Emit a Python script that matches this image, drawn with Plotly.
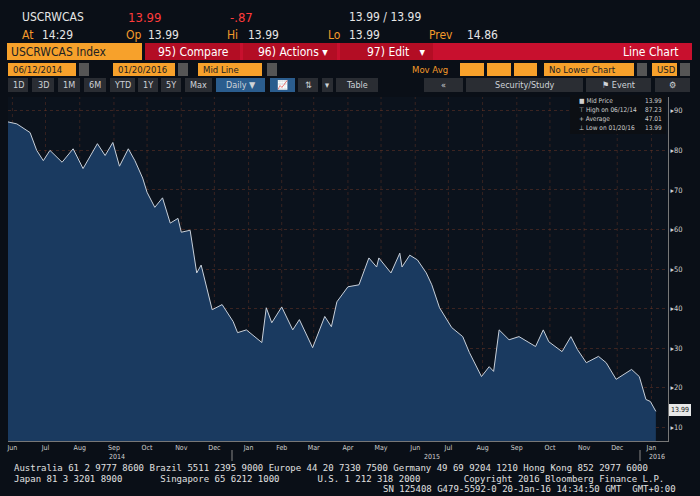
import plotly.graph_objects as go

dates = ["2014-06-12","2014-06-20","2014-07-02","2014-07-08","2014-07-14","2014-07-20","2014-07-31","2014-08-10","2014-08-19","2014-09-01",
"2014-09-08","2014-09-15","2014-09-21","2014-09-29","2014-10-05","2014-10-12","2014-10-16","2014-10-23","2014-10-30","2014-11-06",
"2014-11-13","2014-11-16","2014-11-24","2014-11-30","2014-12-04","2014-12-14","2014-12-23","2015-01-02","2015-01-06","2015-01-14",
"2015-01-28","2015-02-01","2015-02-06","2015-02-15","2015-02-25","2015-03-03","2015-03-15","2015-03-26","2015-04-01","2015-04-06",
"2015-04-16","2015-04-26","2015-05-05","2015-05-12","2015-05-14","2015-05-25","2015-06-02","2015-06-04","2015-06-11","2015-06-18",
"2015-06-26","2015-07-01","2015-07-08","2015-07-19","2015-07-29","2015-08-04","2015-08-15","2015-08-22","2015-08-26","2015-08-31",
"2015-09-09","2015-09-18","2015-09-27","2015-10-03","2015-10-10","2015-10-15","2015-10-27","2015-11-04","2015-11-10","2015-11-18",
"2015-11-29","2015-12-06","2015-12-15","2015-12-29","2016-01-05","2016-01-11","2016-01-15","2016-01-20"]
prices = [87.2,86.7,84.5,80.0,77.4,80.0,77.0,80.4,75.4,81.7,
78.7,82.0,76.0,80.4,77.4,73.0,69.4,65.6,68.0,61.6,
62.8,59.3,59.8,49.0,51.0,39.7,41.0,36.7,33.9,34.6,
31.4,40.2,36.4,40.4,34.6,37.2,30.1,38.0,35.4,41.7,
45.5,46.0,52.8,50.5,52.8,49.0,54.0,50.5,53.5,52.3,
49.0,46.0,40.2,35.2,32.9,28.9,22.8,25.3,24.1,34.6,
32.1,32.9,31.4,30.4,34.6,31.6,29.1,32.9,29.6,26.3,
27.9,26.3,22.1,24.6,22.8,17.0,16.5,13.99]
ytick_vals = [10,20,30,40,50,60,70,80,90]
month_labels = ["Jun","Jul","Aug","Sep","Oct","Nov","Dec","Jan","Feb","Mar","Apr","May","Jun","Jul","Aug","Sep","Oct","Nov","Dec","Jan"]
month_pos = ["2014-06-16","2014-07-16","2014-08-16","2014-09-16","2014-10-16","2014-11-16","2014-12-16","2015-01-16","2015-02-15","2015-03-16",
"2015-04-16","2015-05-16","2015-06-16","2015-07-16","2015-08-16","2015-09-16","2015-10-16","2015-11-16","2015-12-16","2016-01-16"]

W, H = 700, 496
ML, MR, MT, MB = 8, 32, 97, 55
PW, PH = W - ML - MR, H - MT - MB
def px(x): return (x - ML) / PW
def py(y): return (H - MB - y) / PH

fig = go.Figure()
fig.add_trace(go.Scatter(x=dates, y=prices, mode="lines", fill="tozeroy",
    line=dict(color="#c8d0da", width=1), fillcolor="#1a3a60", hoverinfo="skip"))

fig.update_layout(
    width=W, height=H, showlegend=False,
    paper_bgcolor="#0a0f17", plot_bgcolor="#0b121c",
    margin=dict(l=ML, r=MR, t=MT, b=MB, autoexpand=False),
    font=dict(family="DejaVu Sans Condensed, DejaVu Sans", color="#d8d8d8", size=9),
    xaxis=dict(range=["2014-06-12", "2016-01-31"], tickvals=month_pos, ticktext=month_labels,
        showgrid=False, tickfont=dict(size=7, color="#cfcfcf"), ticks="", ticklabelstandoff=0, showline=True,
        linecolor="#777", zeroline=False, automargin=False),
    yaxis=dict(side="right", range=[6.5, 93.5], tickvals=ytick_vals,
        ticktext=["▸" + str(v) for v in ytick_vals], tickfont=dict(size=7.5, color="#cfcfcf"),
        gridcolor="rgba(120,60,40,0.45)", griddash="dot", zeroline=False,
        showline=True, linecolor="#777", automargin=False),
)
for d in month_pos:
    fig.add_vline(x=d, line=dict(color="rgba(120,60,40,0.4)", width=1, dash="dot"), layer="below")

shapes = []
anns = []
def rect(x0, y0, x1, y1, color):
    shapes.append(dict(type="rect", xref="paper", yref="paper", x0=px(x0), x1=px(x1), y0=py(y1), y1=py(y0),
                       fillcolor=color, line=dict(width=0), layer="above"))
def text(x, y, s, color="#e6e6e6", size=11, anchor="left", fam="DejaVu Sans Condensed, DejaVu Sans"):
    anns.append(dict(xref="paper", yref="paper", x=px(x), y=py(y), text=s, showarrow=False,
                     xanchor=anchor, yanchor="middle", font=dict(color=color, size=size, family=fam)))

text(20, 17, "USCRWCAS", size=12)
text(126, 17, "13.99", "#ff3b3b", 13)
text(228, 17, "-.87", "#ff3b3b", 13)
text(347, 17, "13.99 / 13.99", size=12)
text(20, 35, "At", "#f39a2a", 12); text(40, 35, "14:29", size=12)
text(124, 35, "Op", "#f39a2a", 12); text(146, 35, "13.99", size=12)
text(225, 35, "Hi", "#f39a2a", 12); text(246, 35, "13.99", size=12)
text(326, 35, "Lo", "#f39a2a", 12); text(347, 35, "13.99", size=12)
text(427, 35, "Prev", "#f39a2a", 12); text(465, 35, "14.86", size=12)
rect(7, 43, 142, 60, "#f7a12b")
text(9, 51.5, "USCRWCAS Index", "#222", 12)
rect(145, 43, 692, 60, "#c8102e")
rect(145, 43, 240, 60, "#b30d24"); rect(243, 43, 337, 60, "#b30d24"); rect(340, 43, 433, 60, "#b30d24")
text(156, 51.5, "95) Compare", "#fff", 12)
text(256, 51.5, "96) Actions ▾", "#fff", 12)
text(365, 51.5, "97) Edit   ▾", "#fff", 12)
text(681, 51.5, "Line Chart", "#fff", 12, "right")
for (a, b, s) in [(8, 76, "06/12/2014"), (113, 175, "01/20/2016"), (198, 262, "Mid Line"),
                  (460, 484, ""), (487, 511, ""), (514, 537, ""), (544, 634, "No Lower Chart"), (652, 677, "USD")]:
    rect(a, 63, b, 76, "#f7a12b")
    if s: text(a + 3, 69.5, s, "#222", 9.5)
for a in [79, 178, 267, 637, 680]:
    rect(a, 63, a + 10, 76, "#555")
text(410, 69.5, "Mov Avg", "#f39a2a", 9.5)
btns = [(8, 28, "1D"), (32, 54, "3D"), (58, 80, "1M"), (84, 106, "6M"), (110, 135, "YTD"), (138, 158, "1Y"), (161, 181, "5Y"),
        (185, 212, "Max"), (216, 265, "Daily ▼"), (270, 295, "📈"), (298, 318, "⇅"), (322, 333, "▾"), (336, 378, "Table"),
        (424, 463, "«"), (466, 583, "Security/Study"), (586, 651, "⚑ Event"), (655, 690, "⚙")]
for (a, b, s) in btns:
    col = "#2b5d8e" if s in ("Daily ▼", "📈") else "#2a2d33"
    rect(a, 78, b, 92, col)
    text((a + b) / 2, 85, s, "#cfd3d8", 9, "center")
rect(570, 95, 666, 134, "#0c0f14")
lg = [(101, "■ Mid Price", "13.99"), (110, "⊤ High on 06/12/14", "87.23"), (119, "+ Average", "47.01"), (128, "⊥ Low on 01/20/16", "13.99")]
for (y, a, b) in lg:
    text(577, y, a, "#d0d0d0", 6.5)
    text(664, y, b, "#d0d0d0", 6.5, "right")
rect(669, 404, 691, 416, "#e8e8e8")
text(680, 410, "13.99", "#111", 7, "center")
text(117, 457, "2014", "#cfcfcf", 7, "center")
text(432, 457, "2015", "#cfcfcf", 7, "center")
text(657, 457, "2016", "#cfcfcf", 7, "center")
shapes.append(dict(type="line", xref="paper", yref="paper", x0=px(232), x1=px(232), y0=py(461), y1=py(450), line=dict(color="#888", width=1)))
shapes.append(dict(type="line", xref="paper", yref="paper", x0=px(640), x1=px(640), y0=py(461), y1=py(450), line=dict(color="#888", width=1)))
mono = "DejaVu Sans Mono"
text(12, 468, "Australia 61 2 9777 8600 Brazil 5511 2395 9000 Europe 44 20 7330 7500 Germany 49 69 9204 1210 Hong Kong 852 2977 6000", "#e0e0e0", 9, fam=mono)
text(12, 479, "Japan 81 3 3201 8900       Singapore 65 6212 1000       U.S. 1 212 318 2000        Copyright 2016 Bloomberg Finance L.P.", "#e0e0e0", 9, fam=mono)
text(678, 489, "SN 125408 G479-5592-0 20-Jan-16 14:34:50 GMT  GMT+0:00", "#e0e0e0", 9, "right", fam=mono)

fig.update_layout(shapes=fig.layout.shapes + tuple(shapes), annotations=anns)
fig.write_html("out.html", config={"displayModeBar": False},
               post_script="document.body.style.margin='0';document.body.style.background='#0a0f17';")
